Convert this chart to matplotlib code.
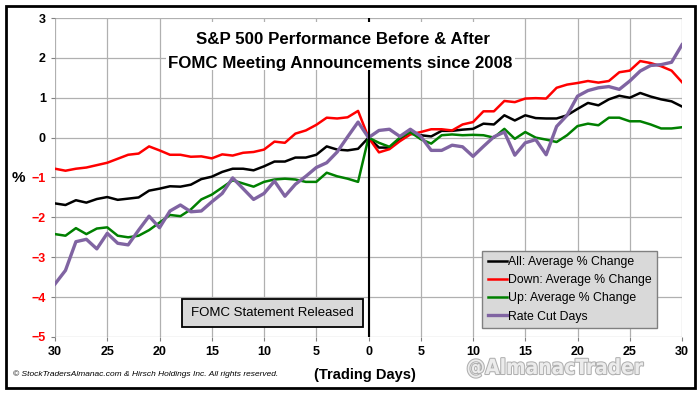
import matplotlib
matplotlib.use("Agg")
import matplotlib.pyplot as plt
import matplotlib.ticker as ticker
import matplotlib.patheffects as pe
from matplotlib.patches import Rectangle
import numpy as np

plt.rcParams['font.family'] = ['Liberation Sans', 'DejaVu Sans']

# trading days relative to the FOMC announcement
days = np.arange(-30, 31)

# average % change, day -30 .. day 30
all_avg = [-1.65, -1.69, -1.57, -1.63, -1.54, -1.49, -1.56, -1.53, -1.50, -1.33,
           -1.28, -1.22, -1.23, -1.18, -1.04, -0.98, -0.86, -0.78, -0.78, -0.82,
           -0.72, -0.60, -0.60, -0.50, -0.50, -0.43, -0.22, -0.30, -0.32, -0.28,
           0.00,
           -0.25, -0.25, -0.03, 0.10, 0.06, 0.03, 0.17, 0.17, 0.20, 0.22,
           0.35, 0.33, 0.56, 0.43, 0.56, 0.49, 0.48, 0.48, 0.56, 0.72,
           0.87, 0.81, 0.96, 1.05, 1.00, 1.12, 1.03, 0.96, 0.91, 0.78]
down_avg = [-0.78, -0.83, -0.78, -0.75, -0.69, -0.63, -0.53, -0.43, -0.40, -0.22,
            -0.32, -0.43, -0.43, -0.48, -0.47, -0.52, -0.42, -0.45, -0.38, -0.36,
            -0.30, -0.10, -0.13, 0.10, 0.18, 0.32, 0.50, 0.48, 0.51, 0.67,
            0.00,
            -0.37, -0.29, -0.09, 0.08, 0.14, 0.21, 0.21, 0.18, 0.33, 0.39,
            0.66, 0.66, 0.92, 0.89, 0.98, 0.99, 0.98, 1.25, 1.33, 1.37,
            1.42, 1.38, 1.42, 1.64, 1.68, 1.92, 1.87, 1.79, 1.68, 1.39]
up_avg = [-2.42, -2.46, -2.27, -2.42, -2.28, -2.25, -2.46, -2.50, -2.46, -2.32,
          -2.13, -1.94, -1.97, -1.80, -1.55, -1.43, -1.25, -1.07, -1.15, -1.23,
          -1.11, -1.05, -1.03, -1.05, -1.11, -1.11, -0.88, -0.97, -1.03, -1.11,
          0.00,
          -0.13, -0.23, 0.00, 0.14, -0.04, -0.15, 0.06, 0.08, 0.06, 0.07,
          0.06, 0.00, 0.22, -0.03, 0.14, 0.00, -0.05, -0.11, 0.06, 0.29,
          0.35, 0.31, 0.50, 0.50, 0.41, 0.41, 0.33, 0.23, 0.23, 0.26]
rate_cut = [-3.67, -3.33, -2.61, -2.55, -2.79, -2.40, -2.65, -2.69, -2.32, -1.97,
            -2.26, -1.84, -1.69, -1.86, -1.84, -1.61, -1.40, -1.01, -1.28, -1.55,
            -1.40, -1.09, -1.47, -1.17, -0.97, -0.75, -0.63, -0.36, 0.02, 0.39,
            0.00,
            0.18, 0.21, 0.03, 0.21, 0.03, -0.32, -0.32, -0.19, -0.23, -0.47,
            -0.22, 0.02, 0.14, -0.44, -0.13, -0.05, -0.43, 0.28, 0.56, 1.04,
            1.18, 1.25, 1.28, 1.21, 1.42, 1.67, 1.81, 1.83, 1.89, 2.33]

fig = plt.figure(figsize=(7, 3.94), dpi=100)
ax = fig.add_axes([0.0786, 0.1447, 0.8957, 0.8096])

ax.plot(days, all_avg, color='black', lw=1.8, label='All: Average % Change', zorder=3)
ax.plot(days, down_avg, color='#ff0000', lw=1.8, label='Down: Average % Change', zorder=3)
ax.plot(days, up_avg, color='#008000', lw=1.8, label='Up: Average % Change', zorder=3)
ax.plot(days, rate_cut, color='#8064a2', lw=2.4, label='Rate Cut Days', zorder=4)

ax.set_xlim(-30, 30)
ax.set_ylim(-5, 3)
ax.xaxis.set_major_locator(ticker.MultipleLocator(5))
ax.yaxis.set_major_locator(ticker.MultipleLocator(1))
ax.xaxis.set_major_formatter(ticker.FuncFormatter(lambda v, _: f"{abs(int(round(v)))}"))
ax.grid(True, color='#b0b0b0', lw=0.9)
ax.set_axisbelow(True)
for s in ax.spines.values():
    s.set_visible(False)
ax.tick_params(length=3, color='#808080', labelsize=9)
for lbl in ax.get_xticklabels() + ax.get_yticklabels():
    lbl.set_fontweight('bold')
for lbl, v in zip(ax.get_yticklabels(), ax.get_yticks()):
    if v < 0:
        lbl.set_color('#ff0000')

ax.axvline(0, color='black', lw=1.5, zorder=5)

# title sits on a white patch inside the plot area
ax.add_patch(Rectangle((0.177, 0.837), 0.557, 0.15, transform=ax.transAxes,
                       facecolor='white', edgecolor='none', zorder=6))
ax.text(0.459, 0.932, 'S&P 500 Performance Before & After', transform=ax.transAxes,
        ha='center', va='center', fontsize=12.2, fontweight='bold', zorder=7)
ax.text(0.455, 0.857, 'FOMC Meeting Announcements since 2008', transform=ax.transAxes,
        ha='center', va='center', fontsize=12.2, fontweight='bold', zorder=7)

# statement released box
ax.add_patch(Rectangle((0.2026, 0.031), 0.2886, 0.088, transform=ax.transAxes,
                       facecolor='#d9d9d9', edgecolor='black', lw=1.3, zorder=6))
ax.text(0.347, 0.075, 'FOMC Statement Released', transform=ax.transAxes,
        ha='center', va='center', fontsize=9.5, zorder=7)

leg = ax.legend(loc='lower left', bbox_to_anchor=(0.681, 0.028), fontsize=8.8,
                frameon=True, fancybox=False, handlelength=1.6, handletextpad=0.1,
                labelspacing=0.5, borderpad=0.45, borderaxespad=0)
leg.get_frame().set_facecolor('#d9d9d9')
leg.get_frame().set_edgecolor('#808080')
leg.get_frame().set_alpha(1)
leg.set_zorder(8)

fig.text(0.026, 0.548, '%', ha='center', va='center', fontsize=11, fontweight='bold')
fig.text(0.521, 0.048, '(Trading Days)', ha='center', va='center', fontsize=10.5,
         fontweight='bold')
fig.text(0.019, 0.05, '\u00a9 StockTradersAlmanac.com & Hirsch Holdings Inc. All rights reserved.',
         ha='left', va='center', fontsize=6, style='italic')
fig.text(0.793, 0.066, '@AlmanacTrader', ha='center', va='center', fontsize=15,
         fontweight='bold', family='DejaVu Sans', fontstretch='condensed',
         color='#ececec',
         path_effects=[pe.withStroke(linewidth=1.5, foreground='#b0b0b0')])

fig.add_artist(Rectangle((0.0086, 0.0152), 0.984, 0.9695, transform=fig.transFigure,
                         facecolor='none', edgecolor='black', lw=2))

fig.savefig('out.png', dpi=100)
